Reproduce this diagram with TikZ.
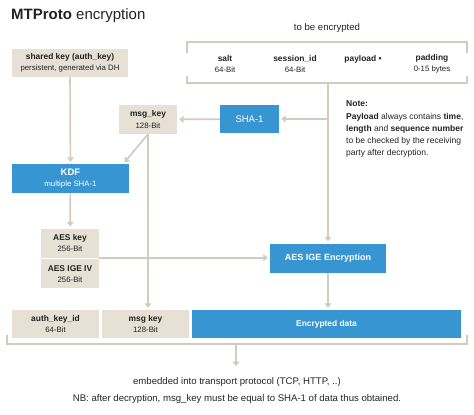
\documentclass[tikz,border=0pt]{standalone}
\usepackage{fontspec}
\setmainfont{Liberation Sans}
\usepackage{xcolor}
\usepackage{tikz}
\usetikzlibrary{positioning,calc,arrows.meta}

\definecolor{keyfill}{HTML}{E6E0D5}
\definecolor{linegray}{HTML}{D2CBBF}
\definecolor{mtblue}{HTML}{3796D1}
\definecolor{txt}{HTML}{222222}

\tikzset{
  keybox/.style={fill=keyfill,inner sep=0pt,align=center,text=txt,minimum height=28pt},
  bluebox/.style={fill=mtblue,inner sep=0pt,align=center,text=white,minimum height=28pt},
  conn/.style={draw=linegray,line width=1.7pt},
  arr/.style={conn,shorten >=2pt,-{Triangle[width=7pt,length=4.5pt]}},
}
\newcommand{\hdfont}{\fontsize{8.4}{10}\selectfont\bfseries}
\newcommand{\sub}[1]{\\[-0.5pt]{\fontsize{7.8}{9}\selectfont #1}}

\begin{document}
\begin{tikzpicture}[x=1pt,y=-1pt]
\useasboundingbox (0,0) rectangle (474,415);
\def\bl{187}
\def\br{467}
\def\trunk{328}

% title
\node[anchor=west,text=txt,font=\fontsize{15}{17}\selectfont,inner sep=0pt] (title) at (11,16) {\textbf{MTProto} encryption};

% to be encrypted: [ salt | session_id | payload | padding ]
\node[text=txt,font=\fontsize{9.6}{11}\selectfont] (tbe) at (327,28) {to be encrypted};
\draw[conn] (\bl,53) -- (\bl,42) -- (\br,42) -- (\br,53);
\draw[conn] (\bl,76) -- (\bl,83) -- (\br,83) -- (\br,76);
\node[text=txt,align=center] (salt) at (225,64) {\hdfont salt\sub{64-Bit}};
\node[text=txt,align=center] (sid) at (295,64) {\hdfont session\_id\sub{64-Bit}};
\node[text=txt,anchor=north,font=\hdfont] (payload) at (363,52) {payload \textbullet};
\node[text=txt,align=center] (padding) at (432,64) {\hdfont padding\sub{0-15 bytes}};
\coordinate (top) at (\trunk,83);

% note
\node[anchor=north west,align=left,text=txt,inner sep=0pt,font=\fontsize{8.5}{12}\selectfont] (note) at (346,100)
  {\textbf{Note:}\\[1pt] \textbf{Payload} always contains \textbf{time},\\ \textbf{length} and \textbf{sequence number}\\ to be checked by the receiving\\ party after decryption.};

% keys
\node[keybox,minimum width=116pt] (shared) at (70,63) {\hdfont shared key (auth\_key)\sub{persistent, generated via DH}};
\node[bluebox,minimum width=117pt,minimum height=29pt] (kdf) at (70.5,178.5) {\fontsize{9.5}{11}\selectfont\bfseries KDF\sub{multiple SHA-1}};
\node[keybox,minimum width=58pt,minimum height=29pt] (msgkey) at (148,119.5) {\hdfont msg\_key\sub{128-Bit}};
\node[bluebox,minimum width=59pt] (sha) at (249.5,119) {\fontsize{9.5}{11}\selectfont SHA-1};
\node[keybox,minimum width=58pt,minimum height=29pt] (aeskey) at (70,243) {\hdfont AES key\sub{256-Bit}};
\node[keybox,minimum width=58pt,minimum height=29pt,below=1.5pt of aeskey] (aesiv) {\hdfont AES IGE IV\sub{256-Bit}};
\node[bluebox,minimum width=116pt,minimum height=29pt] (aesenc) at (\trunk,258) {\fontsize{9}{11}\selectfont\bfseries AES IGE Encryption};

% bottom: auth_key_id | msg key | Encrypted data
\node[keybox,minimum width=87pt] (akid) at (55.5,324) {\hdfont auth\_key\_id\sub{64-Bit}};
\node[keybox,minimum width=87pt] (mk) at (145.5,324) {\hdfont msg key\sub{128-Bit}};
\node[bluebox,minimum width=269pt] (encdata) at (326.5,324) {\hdfont Encrypted data};
\draw[conn] (7,335) -- (7,344) -- (\br,344) -- (\br,335);
\coordinate (bot) at (236,344);
\coordinate (out) at (236,368);

% connectors
\draw[arr] (shared) -- (kdf);
\draw[arr] (top) -- (aesenc);
\draw[arr] (top |- sha.east) -- (sha);
\draw[arr] (sha) -- (msgkey);
\draw[arr] (msgkey.south) -- ($(kdf.north east)+(-6,0)$);
\draw[arr] (msgkey.south) -- (msgkey.south |- mk.north);
\draw[arr] (kdf) -- (aeskey);
\draw[arr] (aeskey.south east) -- (aeskey.south east -| aesenc.west);
\draw[arr] (aesenc) -- (aesenc.south |- encdata.north);
\draw[arr] (bot) -- (out);

\node[text=txt,font=\fontsize{9.6}{11}\selectfont] (embed) at (237,382) {embedded into transport protocol (TCP, HTTP, ..)};
\node[text=txt,font=\fontsize{9.6}{11}\selectfont] (nb) at (237,399) {NB: after decryption, msg\_key must be equal to SHA-1 of data thus obtained.};
\end{tikzpicture}
\end{document}
